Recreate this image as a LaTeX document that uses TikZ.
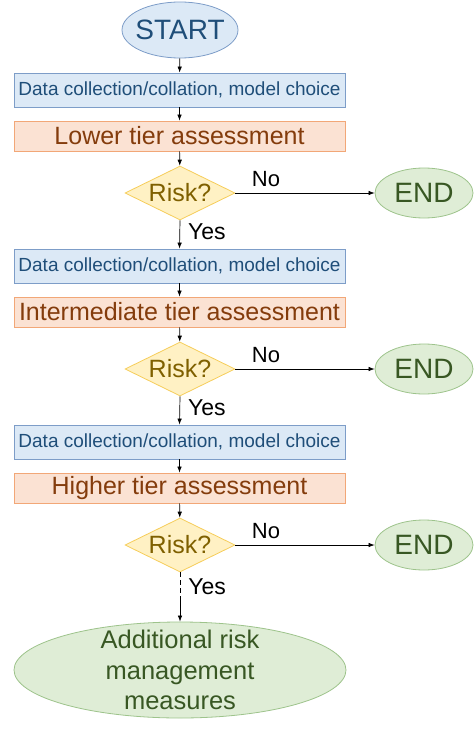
\documentclass[tikz,border=0pt]{standalone}
\usepackage{fontspec}
\setmainfont{Liberation Sans}
\usetikzlibrary{shapes.geometric,arrows.meta}
\definecolor{bfill}{HTML}{DCE9F6}
\definecolor{bdraw}{HTML}{7D9DC8}
\definecolor{btext}{HTML}{1F4E79}
\definecolor{ofill}{HTML}{FBE2D3}
\definecolor{odraw}{HTML}{F2A777}
\definecolor{otext}{HTML}{843C0C}
\definecolor{dfill}{HTML}{FFF1C4}
\definecolor{ddraw}{HTML}{F6CD5A}
\definecolor{dtext}{HTML}{7F6000}
\definecolor{gfill}{HTML}{DFEDD6}
\definecolor{gdraw}{HTML}{9DC38B}
\definecolor{gtext}{HTML}{385723}
\tikzset{
  datbox/.style={rectangle, draw=bdraw, fill=bfill, text=btext, line width=0.8pt,
    minimum width=331pt, minimum height=34pt, inner sep=0pt,
    font=\fontsize{19}{22}\selectfont},
  tierbox/.style={rectangle, draw=odraw, fill=ofill, text=otext, line width=0.8pt,
    minimum width=331pt, minimum height=30pt, inner sep=0pt,
    font=\fontsize{25}{28}\selectfont},
  riskdia/.style={diamond, draw=ddraw, fill=dfill, text=dtext, line width=0.8pt,
    minimum width=110pt, minimum height=54pt, inner sep=0pt,
    font=\fontsize{25}{28}\selectfont},
  endell/.style={ellipse, draw=gdraw, fill=gfill, text=gtext, line width=0.8pt,
    minimum width=98pt, minimum height=50pt, inner sep=0pt,
    font=\fontsize{28}{32}\selectfont},
  startell/.style={ellipse, draw=bdraw, fill=bfill, text=btext, line width=0.8pt,
    minimum width=116pt, minimum height=56pt, inner sep=0pt,
    font=\fontsize{28}{32}\selectfont},
  finell/.style={ellipse, draw=gdraw, fill=gfill, text=gtext, line width=0.8pt,
    minimum width=332pt, minimum height=96pt, inner xsep=0pt, inner ysep=-20pt,
    align=center, font=\fontsize{25.5}{30.5}\selectfont},
  arr/.style={-{Latex[length=6pt,width=4.5pt]}, line width=0.7pt},
  lbl/.style={inner sep=0pt, font=\fontsize{22}{26}\selectfont},
  ylbl/.style={inner sep=0pt, anchor=west, font=\fontsize{23}{26}\selectfont}
}
\begin{document}
\begin{tikzpicture}[x=1pt,y=-1pt]
\useasboundingbox (0,0) rectangle (474,733);
\node[startell] (start) at (180,30) {\makebox[0pt]{START}};
\node[datbox] (d1) at (179.5,90) {Data collection/collation, model choice};
\node[tierbox] (t1) at (179.5,136) {Lower tier assessment};
\node[riskdia] (r1) at (180,193) {\makebox[0pt]{Risk?}};
\node[endell] (e1) at (424,193) {\makebox[0pt]{END}};
\node[datbox] (d2) at (179.5,266) {Data collection/collation, model choice};
\node[tierbox] (t2) at (179.5,312) {Intermediate tier assessment};
\node[riskdia] (r2) at (180,369) {\makebox[0pt]{Risk?}};
\node[endell] (e2) at (424,369) {\makebox[0pt]{END}};
\node[datbox] (d3) at (179.5,442) {Data collection/collation, model choice};
\node[tierbox] (t3) at (179.5,488) {Higher tier assessment};
\node[riskdia] (r3) at (180,545) {\makebox[0pt]{Risk?}};
\node[endell] (e3) at (424,545) {\makebox[0pt]{END}};
\node[finell] (fin) at (180,670) {Additional risk\\management\\measures};
\coordinate (c3) at (180,600);

\draw[arr] (start) -- (d1);
\draw[arr] (d1) -- (t1);
\draw[arr] (t1) -- (r1);
\draw[arr] (r1.east) -- node[lbl, above=6pt, pos=0.22] (n1) {No} (e1.west);
\draw[arr] (r1.south) -- node[ylbl, xshift=8pt, pos=0.39] (y1) {Yes} (d2.north);
\draw[arr] (d2) -- (t2);
\draw[arr] (t2) -- (r2);
\draw[arr] (r2.east) -- node[lbl, above=6pt, pos=0.22] (n2) {No} (e2.west);
\draw[arr] (r2.south) -- node[ylbl, xshift=8pt, pos=0.39] (y2) {Yes} (d3.north);
\draw[arr] (d3) -- (t3);
\draw[arr] (t3) -- (r3);
\draw[arr] (r3.east) -- node[lbl, above=6pt, pos=0.22] (n3) {No} (e3.west);
\draw[line width=0.7pt, dash pattern=on 5pt off 3pt] (r3.south) -- node[ylbl, xshift=8pt, pos=0.5] (y3) {Yes} (c3);
\draw[arr] (c3) -- (fin.north);
\end{tikzpicture}
\end{document}
